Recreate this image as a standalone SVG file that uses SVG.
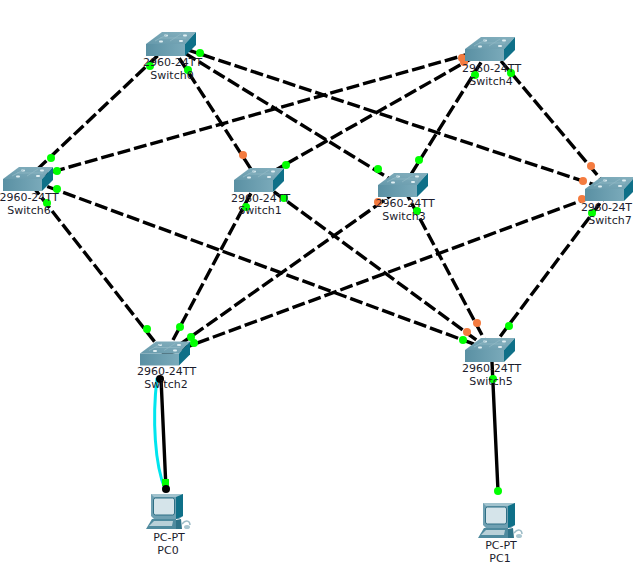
<svg xmlns="http://www.w3.org/2000/svg" width="633" height="573" viewBox="0 0 633 573">
<defs>
<linearGradient id="front" x1="0" y1="0" x2="1" y2="0"><stop offset="0" stop-color="#5a90a3"/><stop offset="1" stop-color="#7aaaba"/></linearGradient>
<linearGradient id="top" x1="0" y1="1" x2="1" y2="0"><stop offset="0" stop-color="#6699ab"/><stop offset="1" stop-color="#86b1bf"/></linearGradient>
<g id="sw">
<polygon points="0,0 16,-12 50,-12 39,0" fill="url(#top)"/>
<polygon points="0,0 39,0 39,12 0,12" fill="url(#front)"/>
<polygon points="39,0 50,-12 50,1 39,12" fill="#0f7088"/>
<g fill="#dfeef2"><rect x="13" y="-3.500" width="4" height="2" rx="1"/><rect x="33" y="-4" width="4" height="2" rx="1"/><rect x="18" y="-9.500" width="4" height="2" rx="1"/><rect x="37" y="-9.500" width="4" height="2" rx="1"/></g>
<path d="M9,-3 L22,-10 M24,-3 L35,-10 M14,-6 H40" stroke="#8fb8c4" stroke-width="0.800" fill="none"/>
</g>
<g id="pc">
<polygon points="0,35 6,25 30,25 30,35" fill="#4f8a9e"/>
<polygon points="3,32 8,27 27,27 26,32" fill="#b9d0d8"/>
<polygon points="30,26 35,25 36,35 30,35" fill="#2f7388"/>
<path d="M36,30C40,25 44,27 44,31" fill="none" stroke="#9dbcc7" stroke-width="1.500"/>
<ellipse cx="41" cy="33" rx="3" ry="2" fill="#a9c6d0"/>
<polygon points="5,0 37,0 37,22 33,25 8,25 5,22" fill="#6fa0b2"/>
<polygon points="5,0 37,0 33,3 8,3" fill="#a2c3ce"/>
<polygon points="30,3 37,0 37,22 30,25" fill="#0f7088"/>
<rect x="7.500" y="4" width="21" height="17" rx="2" fill="#d5e4ea" stroke="#2f6f85" stroke-width="1"/>
</g>
</defs>
<style>
.l{stroke:#000;stroke-width:3.400;stroke-dasharray:13 4;fill:none}
.g{fill:#0f0}
.o{fill:#f47b3f}
text{font-family:"DejaVu Sans",Verdana,sans-serif;font-size:11px;fill:#1c1c2c;text-anchor:middle}
</style>
<rect width="633" height="573" fill="#fff"/>
<g id="connectors">
<path class="l" d="M170,44L27,179M170,44L258,180M170,44L403,187M170,44L610,190"/>
<path class="l" d="M490,48L27,179M490,48L258,180M490,48L403,187M490,48L610,190"/>
<path class="l" d="M165,355L27,179M165,355L258,180M165,355L403,187M165,355L610,190"/>
<path class="l" d="M490,350L27,179M490,350L258,180M490,350L403,187M490,350L610,190"/>
<path d="M157,378C152,420 155,465 165,489" fill="none" stroke="#00e5ee" stroke-width="3"/>
<path d="M161,378L166,489M492,362L498,491" fill="none" stroke="#000" stroke-width="3.400"/>
</g>
<g id="links">
<g class="g"><circle cx="150" cy="66" r="4"/><circle cx="188" cy="70" r="4"/><circle cx="200" cy="53" r="4"/><circle cx="51" cy="158" r="4"/><circle cx="57" cy="171" r="4"/><circle cx="57" cy="189" r="4"/><circle cx="47" cy="203" r="4"/><circle cx="475" cy="75" r="4"/><circle cx="511" cy="73" r="4"/><circle cx="286" cy="165" r="4"/><circle cx="284" cy="198" r="4"/><circle cx="246" cy="207" r="4"/><circle cx="378" cy="169" r="4"/><circle cx="419" cy="160" r="4"/><circle cx="417" cy="211" r="4"/><circle cx="592" cy="213" r="4"/><circle cx="147" cy="329" r="4"/><circle cx="180" cy="327" r="4"/><circle cx="191" cy="337" r="4"/><circle cx="194" cy="343" r="4"/><circle cx="463" cy="340" r="4"/><circle cx="509" cy="326" r="4"/><circle cx="493" cy="379" r="4"/><circle cx="498" cy="491" r="4"/><rect x="162" y="479" width="7" height="7"/></g>
<g class="o"><circle cx="462" cy="58" r="4"/><circle cx="464" cy="62" r="4"/><circle cx="243" cy="155" r="4"/><circle cx="378" cy="202" r="4"/><circle cx="591" cy="166" r="4"/><circle cx="583" cy="181" r="4"/><circle cx="582" cy="199" r="4"/><circle cx="477" cy="323" r="4"/><circle cx="467" cy="332" r="4"/></g>
<circle cx="160" cy="379" r="4"/><circle cx="166" cy="489" r="4"/>
</g>
<g id="switch0"><use href="#sw" x="146" y="44"/><text x="172.500" y="66">2960-24TT</text><text x="172" y="79">Switch0</text></g>
<g id="switch4"><use href="#sw" x="465" y="49"/><text x="491.500" y="72">2960-24TT</text><text x="491" y="85">Switch4</text></g>
<g id="switch6"><use href="#sw" x="3" y="179"/><text x="29" y="201">2960-24TT</text><text x="29" y="214">Switch6</text></g>
<g id="switch1"><use href="#sw" x="234" y="180"/><text x="260.500" y="202">2960-24TT</text><text x="260" y="214">Switch1</text></g>
<g id="switch3"><use href="#sw" x="378" y="185"/><text x="405" y="207">2960-24TT</text><text x="404" y="220">Switch3</text></g>
<g id="switch7"><use href="#sw" x="585" y="189"/><text x="581" y="211" textLength="51" style="text-anchor:start">2960-24T</text><text x="610" y="224">Switch7</text></g>
<g id="switch2"><use href="#sw" x="140" y="353.500"/><text x="166.500" y="375">2960-24TT</text><text x="166" y="388">Switch2</text></g>
<g id="switch5"><use href="#sw" x="465" y="350"/><text x="491.500" y="372">2960-24TT</text><text x="491" y="385">Switch5</text></g>
<g id="pc0"><use href="#pc" x="146" y="494"/><text x="169" y="541">PC-PT</text><text x="168" y="554">PC0</text></g>
<g id="pc1"><use href="#pc" x="478" y="503"/><text x="501" y="549">PC-PT</text><text x="500" y="562">PC1</text></g>
</svg>
